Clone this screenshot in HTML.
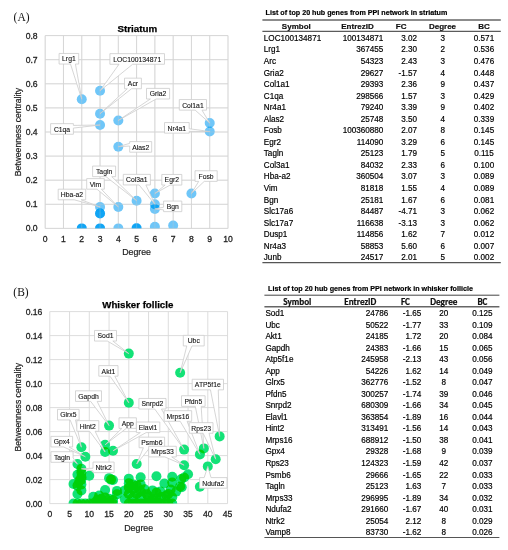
<!DOCTYPE html>
<html><head><meta charset="utf-8"><title>Hub genes</title>
<style>html,body{margin:0;padding:0;background:#fff;}svg{display:block;}</style>
</head><body>
<svg width="508" height="550" viewBox="0 0 508 550">
<rect width="508" height="550" fill="#fff"/>
<defs>
<filter id="gf" x="0" y="0" width="508" height="550" filterUnits="userSpaceOnUse" color-interpolation-filters="sRGB">
<feComponentTransfer in="SourceAlpha" result="t"><feFuncA type="table" tableValues="0.0000 0.0000 0.0000 0.0000 0.0000 0.0000 0.0000 0.0000 0.2198 0.4396 0.6593 0.8791 1.0000 1.0000 1.0000 1.0000 1.0000 1.0000 1.0000 1.0000 1.0000"/></feComponentTransfer>
<feColorMatrix in="t" type="matrix" values="0 0 0 -0.0706 0.0706 0 0 0 -0.0706 0.8863 0 0 0 -0.4314 0.4627 0 0 0 0 1" result="col"/>
<feComponentTransfer in="SourceAlpha" result="a"><feFuncA type="table" tableValues="0.0000 0.1429 0.2857 0.4286 0.5714 0.7143 0.8571 1.0000 1.0000 1.0000 1.0000 1.0000 1.0000 1.0000 1.0000 1.0000 1.0000 1.0000 1.0000 1.0000 1.0000"/></feComponentTransfer>
<feComposite in="col" in2="a" operator="in"/>
</filter>
<filter id="bf" x="0" y="0" width="508" height="550" filterUnits="userSpaceOnUse" color-interpolation-filters="sRGB">
<feComponentTransfer in="SourceAlpha" result="t"><feFuncA type="table" tableValues="0.0000 0.0000 0.0000 0.0000 0.0000 0.0000 0.0000 0.0000 0.2198 0.4396 0.6593 0.8791 1.0000 1.0000 1.0000 1.0000 1.0000 1.0000 1.0000 1.0000 1.0000"/></feComponentTransfer>
<feColorMatrix in="t" type="matrix" values="0 0 0 -0.3922 0.4314 0 0 0 -0.1373 0.7765 0 0 0 -0.0118 0.9725 0 0 0 0 1" result="col"/>
<feComponentTransfer in="SourceAlpha" result="a"><feFuncA type="table" tableValues="0.0000 0.1429 0.2857 0.4286 0.5714 0.7143 0.8571 1.0000 1.0000 1.0000 1.0000 1.0000 1.0000 1.0000 1.0000 1.0000 1.0000 1.0000 1.0000 1.0000 1.0000"/></feComponentTransfer>
<feComposite in="col" in2="a" operator="in"/>
</filter>
<clipPath id="cpA"><rect x="44.20" y="0" width="194.80" height="228.40"/></clipPath>
<clipPath id="cpB"><rect x="48.80" y="0" width="189.75" height="503.60"/></clipPath>
</defs>
<text x="13.6" y="20.8" font-family="'Liberation Serif', 'Times New Roman', serif" font-size="11.5" fill="#111">(A)</text>
<text x="13.3" y="296.2" font-family="'Liberation Serif', 'Times New Roman', serif" font-size="11.5" fill="#111">(B)</text>
<g stroke="#d9d9d9" stroke-width="0.9" shape-rendering="auto"><line x1="45.20" y1="35.60" x2="45.20" y2="228.40"/><line x1="63.48" y1="35.60" x2="63.48" y2="228.40"/><line x1="81.76" y1="35.60" x2="81.76" y2="228.40"/><line x1="100.04" y1="35.60" x2="100.04" y2="228.40"/><line x1="118.32" y1="35.60" x2="118.32" y2="228.40"/><line x1="136.60" y1="35.60" x2="136.60" y2="228.40"/><line x1="154.88" y1="35.60" x2="154.88" y2="228.40"/><line x1="173.16" y1="35.60" x2="173.16" y2="228.40"/><line x1="191.44" y1="35.60" x2="191.44" y2="228.40"/><line x1="209.72" y1="35.60" x2="209.72" y2="228.40"/><line x1="228.00" y1="35.60" x2="228.00" y2="228.40"/><line x1="45.20" y1="228.40" x2="228.00" y2="228.40"/><line x1="45.20" y1="204.30" x2="228.00" y2="204.30"/><line x1="45.20" y1="180.20" x2="228.00" y2="180.20"/><line x1="45.20" y1="156.10" x2="228.00" y2="156.10"/><line x1="45.20" y1="132.00" x2="228.00" y2="132.00"/><line x1="45.20" y1="107.90" x2="228.00" y2="107.90"/><line x1="45.20" y1="83.80" x2="228.00" y2="83.80"/><line x1="45.20" y1="59.70" x2="228.00" y2="59.70"/><line x1="45.20" y1="35.60" x2="228.00" y2="35.60"/></g><g font-family="'Liberation Sans', Arial, sans-serif" font-size="8.6" fill="#222" stroke="#222" stroke-width="0.28"><text x="37.60" y="231.40" text-anchor="end">0.0</text><text x="37.60" y="207.30" text-anchor="end">0.1</text><text x="37.60" y="183.20" text-anchor="end">0.2</text><text x="37.60" y="159.10" text-anchor="end">0.3</text><text x="37.60" y="135.00" text-anchor="end">0.4</text><text x="37.60" y="110.90" text-anchor="end">0.5</text><text x="37.60" y="86.80" text-anchor="end">0.6</text><text x="37.60" y="62.70" text-anchor="end">0.7</text><text x="37.60" y="38.60" text-anchor="end">0.8</text><text x="45.20" y="241.50" text-anchor="middle">0</text><text x="63.48" y="241.50" text-anchor="middle">1</text><text x="81.76" y="241.50" text-anchor="middle">2</text><text x="100.04" y="241.50" text-anchor="middle">3</text><text x="118.32" y="241.50" text-anchor="middle">4</text><text x="136.60" y="241.50" text-anchor="middle">5</text><text x="154.88" y="241.50" text-anchor="middle">6</text><text x="173.16" y="241.50" text-anchor="middle">7</text><text x="191.44" y="241.50" text-anchor="middle">8</text><text x="209.72" y="241.50" text-anchor="middle">9</text><text x="228.00" y="241.50" text-anchor="middle">10</text></g>
<text x="137.3" y="32.2" text-anchor="middle" font-family="'Liberation Sans', Arial, sans-serif" font-size="9.8" font-weight="bold" fill="#000" stroke="#000" stroke-width="0.25">Striatum</text>
<text x="136.6" y="255.0" text-anchor="middle" font-family="'Liberation Sans', Arial, sans-serif" font-size="8.8" fill="#222" stroke="#222" stroke-width="0.2">Degree</text>
<text transform="translate(21.0,132.1) rotate(-90)" text-anchor="middle" font-family="'Liberation Sans', Arial, sans-serif" font-size="8.6" fill="#222" stroke="#222" stroke-width="0.2">Betweenness centrality</text>
<g clip-path="url(#cpA)"><g filter="url(#bf)" fill="#000" fill-opacity="0.35"><circle cx="100.04" cy="90.79" r="5"/><circle cx="81.76" cy="99.22" r="5"/><circle cx="100.04" cy="113.68" r="5"/><circle cx="118.32" cy="120.43" r="5"/><circle cx="209.72" cy="123.08" r="5"/><circle cx="100.04" cy="125.01" r="5"/><circle cx="209.72" cy="131.52" r="5"/><circle cx="118.32" cy="146.70" r="5"/><circle cx="191.44" cy="193.46" r="5"/><circle cx="154.88" cy="193.46" r="5"/><circle cx="136.60" cy="200.69" r="5"/><circle cx="154.88" cy="204.30" r="5"/><circle cx="100.04" cy="206.95" r="5"/><circle cx="118.32" cy="206.95" r="5"/><circle cx="154.88" cy="208.88" r="5"/><circle cx="100.04" cy="213.46" r="5"/><circle cx="100.04" cy="213.46" r="5"/><circle cx="173.16" cy="225.51" r="5"/><circle cx="154.88" cy="226.71" r="5"/><circle cx="136.60" cy="227.92" r="5"/><circle cx="81.76" cy="228.40" r="5"/><circle cx="81.76" cy="228.40" r="5"/><circle cx="100.04" cy="228.40" r="5"/><circle cx="100.04" cy="228.40" r="5"/><circle cx="118.32" cy="228.40" r="5"/><circle cx="136.60" cy="228.40" r="5"/></g></g>
<g stroke="#c8c8c8" stroke-width="0.9" opacity="0.35"><line x1="45.20" y1="35.60" x2="45.20" y2="228.40"/><line x1="63.48" y1="35.60" x2="63.48" y2="228.40"/><line x1="81.76" y1="35.60" x2="81.76" y2="228.40"/><line x1="100.04" y1="35.60" x2="100.04" y2="228.40"/><line x1="118.32" y1="35.60" x2="118.32" y2="228.40"/><line x1="136.60" y1="35.60" x2="136.60" y2="228.40"/><line x1="154.88" y1="35.60" x2="154.88" y2="228.40"/><line x1="173.16" y1="35.60" x2="173.16" y2="228.40"/><line x1="191.44" y1="35.60" x2="191.44" y2="228.40"/><line x1="209.72" y1="35.60" x2="209.72" y2="228.40"/><line x1="228.00" y1="35.60" x2="228.00" y2="228.40"/><line x1="45.20" y1="228.40" x2="228.00" y2="228.40"/><line x1="45.20" y1="204.30" x2="228.00" y2="204.30"/><line x1="45.20" y1="180.20" x2="228.00" y2="180.20"/><line x1="45.20" y1="156.10" x2="228.00" y2="156.10"/><line x1="45.20" y1="132.00" x2="228.00" y2="132.00"/><line x1="45.20" y1="107.90" x2="228.00" y2="107.90"/><line x1="45.20" y1="83.80" x2="228.00" y2="83.80"/><line x1="45.20" y1="59.70" x2="228.00" y2="59.70"/><line x1="45.20" y1="35.60" x2="228.00" y2="35.60"/></g>
<g fill="#fff" stroke="#cccccc" stroke-width="0.8"><path d="M59.1,53.45L78.7,53.45L78.7,64.05L75.43,64.05L81.76,99.22L70.53,64.05L59.1,64.05Z"/><path d="M109.9,53.65L164.5,53.65L164.5,64.25L132.65,64.25L100.04,90.79L119,64.25L109.9,64.25Z"/><path d="M124.5,78.15L141.4,78.15L141.4,88.75L131.54,88.75L100.04,113.68L127.32,88.75L124.5,88.75Z"/><path d="M146.5,88.4L169.6,88.4L169.6,99L156.12,99L118.32,120.43L150.35,99L146.5,99Z"/><path d="M179.3,99.55L206.5,99.55L206.5,110.15L201.97,110.15L209.72,123.08L195.17,110.15L179.3,110.15Z"/><path d="M50.6,123.65L73.4,123.65L73.4,125.42L100.04,125.01L73.4,128.07L73.4,134.25L50.6,134.25Z"/><path d="M164.5,122.55L189.2,122.55L189.2,128.73L209.72,131.52L189.2,131.38L189.2,133.15L164.5,133.15Z"/><path d="M129.7,141.6L151.7,141.6L151.7,152.2L129.7,152.2L129.7,146.02L118.32,146.7L129.7,143.37Z"/><path d="M92.6,166.05L115.6,166.05L115.6,176.65L111.77,176.65L136.6,200.69L106.02,176.65L92.6,176.65Z"/><path d="M123.3,174.35L150.4,174.35L150.4,184.95L145.88,184.95L154.88,204.3L139.11,184.95L123.3,184.95Z"/><path d="M161.8,174.45L181.8,174.45L181.8,185.05L170.13,185.05L154.88,193.46L165.13,185.05L161.8,185.05Z"/><path d="M195,170.75L217.2,170.75L217.2,181.35L204.25,181.35L191.44,193.46L198.7,181.35L195,181.35Z"/><path d="M86.7,178.6L104.3,178.6L104.3,189.2L101.37,189.2L118.32,206.95L96.97,189.2L86.7,189.2Z"/><path d="M58.2,189.2L85.7,189.2L85.7,199.8L81.12,199.8L100.04,206.95L74.24,199.8L58.2,199.8Z"/><path d="M163.6,201.05L181.8,201.05L181.8,211.65L163.6,211.65L163.6,209.88L154.88,208.88L163.6,207.23Z"/></g><g font-family="'Liberation Sans', Arial, sans-serif" font-size="6.8" fill="#111" stroke="#111" stroke-width="0.1" text-anchor="middle"><text x="68.90" y="61.45">Lrg1</text><text x="137.20" y="61.65">LOC100134871</text><text x="132.95" y="86.15">Acr</text><text x="158.05" y="96.40">Gria2</text><text x="192.90" y="107.55">Col1a1</text><text x="62.00" y="131.65">C1qa</text><text x="176.85" y="130.55">Nr4a1</text><text x="140.70" y="149.60">Alas2</text><text x="104.10" y="174.05">Tagln</text><text x="136.85" y="182.35">Col3a1</text><text x="171.80" y="182.45">Egr2</text><text x="206.10" y="178.75">Fosb</text><text x="95.50" y="186.60">Vim</text><text x="71.95" y="197.20">Hba-a2</text><text x="172.70" y="209.05">Bgn</text></g>
<g stroke="#d9d9d9" stroke-width="0.9" shape-rendering="auto"><line x1="49.80" y1="311.60" x2="49.80" y2="503.60"/><line x1="69.55" y1="311.60" x2="69.55" y2="503.60"/><line x1="89.30" y1="311.60" x2="89.30" y2="503.60"/><line x1="109.05" y1="311.60" x2="109.05" y2="503.60"/><line x1="128.80" y1="311.60" x2="128.80" y2="503.60"/><line x1="148.55" y1="311.60" x2="148.55" y2="503.60"/><line x1="168.30" y1="311.60" x2="168.30" y2="503.60"/><line x1="188.05" y1="311.60" x2="188.05" y2="503.60"/><line x1="207.80" y1="311.60" x2="207.80" y2="503.60"/><line x1="227.55" y1="311.60" x2="227.55" y2="503.60"/><line x1="49.80" y1="503.60" x2="227.55" y2="503.60"/><line x1="49.80" y1="479.60" x2="227.55" y2="479.60"/><line x1="49.80" y1="455.60" x2="227.55" y2="455.60"/><line x1="49.80" y1="431.60" x2="227.55" y2="431.60"/><line x1="49.80" y1="407.60" x2="227.55" y2="407.60"/><line x1="49.80" y1="383.60" x2="227.55" y2="383.60"/><line x1="49.80" y1="359.60" x2="227.55" y2="359.60"/><line x1="49.80" y1="335.60" x2="227.55" y2="335.60"/><line x1="49.80" y1="311.60" x2="227.55" y2="311.60"/></g><g font-family="'Liberation Sans', Arial, sans-serif" font-size="8.6" fill="#222" stroke="#222" stroke-width="0.28"><text x="42.40" y="506.60" text-anchor="end">0.00</text><text x="42.40" y="482.60" text-anchor="end">0.02</text><text x="42.40" y="458.60" text-anchor="end">0.04</text><text x="42.40" y="434.60" text-anchor="end">0.06</text><text x="42.40" y="410.60" text-anchor="end">0.08</text><text x="42.40" y="386.60" text-anchor="end">0.10</text><text x="42.40" y="362.60" text-anchor="end">0.12</text><text x="42.40" y="338.60" text-anchor="end">0.14</text><text x="42.40" y="314.60" text-anchor="end">0.16</text><text x="49.80" y="516.70" text-anchor="middle">0</text><text x="69.55" y="516.70" text-anchor="middle">5</text><text x="89.30" y="516.70" text-anchor="middle">10</text><text x="109.05" y="516.70" text-anchor="middle">15</text><text x="128.80" y="516.70" text-anchor="middle">20</text><text x="148.55" y="516.70" text-anchor="middle">25</text><text x="168.30" y="516.70" text-anchor="middle">30</text><text x="188.05" y="516.70" text-anchor="middle">35</text><text x="207.80" y="516.70" text-anchor="middle">40</text><text x="227.55" y="516.70" text-anchor="middle">45</text></g>
<text x="137.8" y="307.9" text-anchor="middle" font-family="'Liberation Sans', Arial, sans-serif" font-size="9.7" font-weight="bold" fill="#000" stroke="#000" stroke-width="0.25">Whisker follicle</text>
<text x="138.7" y="530.6" text-anchor="middle" font-family="'Liberation Sans', Arial, sans-serif" font-size="8.8" fill="#222" stroke="#222" stroke-width="0.2">Degree</text>
<text transform="translate(21.0,407.2) rotate(-90)" text-anchor="middle" font-family="'Liberation Sans', Arial, sans-serif" font-size="8.6" fill="#222" stroke="#222" stroke-width="0.2">Betweenness centrality</text>
<g clip-path="url(#cpB)"><g filter="url(#gf)" fill="#000" fill-opacity="0.35"><circle cx="128.80" cy="353.60" r="5"/><circle cx="180.15" cy="372.80" r="5"/><circle cx="128.80" cy="402.80" r="5"/><circle cx="109.05" cy="425.60" r="5"/><circle cx="219.65" cy="436.40" r="5"/><circle cx="105.10" cy="444.80" r="5"/><circle cx="81.40" cy="447.20" r="5"/><circle cx="203.85" cy="448.40" r="5"/><circle cx="184.10" cy="449.60" r="5"/><circle cx="113.00" cy="450.80" r="5"/><circle cx="105.10" cy="452.00" r="5"/><circle cx="199.90" cy="454.40" r="5"/><circle cx="85.35" cy="456.80" r="5"/><circle cx="215.70" cy="459.20" r="5"/><circle cx="136.70" cy="464.00" r="5"/><circle cx="77.45" cy="464.00" r="5"/><circle cx="184.10" cy="465.20" r="5"/><circle cx="207.80" cy="466.40" r="5"/><circle cx="81.40" cy="468.80" r="5"/><circle cx="81.40" cy="472.40" r="5"/><circle cx="73.50" cy="503.60" r="5"/><circle cx="77.45" cy="503.60" r="5"/><circle cx="81.40" cy="503.60" r="5"/><circle cx="85.35" cy="503.60" r="5"/><circle cx="89.30" cy="503.60" r="5"/><circle cx="93.25" cy="503.60" r="5"/><circle cx="97.20" cy="503.60" r="5"/><circle cx="101.15" cy="503.60" r="5"/><circle cx="105.10" cy="503.60" r="5"/><circle cx="109.05" cy="503.60" r="5"/><circle cx="113.00" cy="503.60" r="5"/><circle cx="128.80" cy="503.60" r="5"/><circle cx="132.75" cy="503.60" r="5"/><circle cx="136.70" cy="503.60" r="5"/><circle cx="140.65" cy="503.60" r="5"/><circle cx="144.60" cy="503.60" r="5"/><circle cx="148.55" cy="503.60" r="5"/><circle cx="152.50" cy="503.60" r="5"/><circle cx="156.45" cy="503.60" r="5"/><circle cx="160.40" cy="503.60" r="5"/><circle cx="164.35" cy="503.60" r="5"/><circle cx="168.30" cy="503.60" r="5"/><circle cx="172.25" cy="503.60" r="5"/><circle cx="77.45" cy="474.80" r="5"/><circle cx="89.30" cy="475.76" r="5"/><circle cx="81.40" cy="479.60" r="5"/><circle cx="73.50" cy="484.04" r="5"/><circle cx="77.45" cy="485.60" r="5"/><circle cx="81.40" cy="490.40" r="5"/><circle cx="77.45" cy="494.00" r="5"/><circle cx="93.25" cy="496.76" r="5"/><circle cx="109.05" cy="478.16" r="5"/><circle cx="113.00" cy="480.08" r="5"/><circle cx="128.80" cy="478.64" r="5"/><circle cx="140.65" cy="477.20" r="5"/><circle cx="105.10" cy="490.04" r="5"/><circle cx="116.95" cy="490.88" r="5"/><circle cx="128.80" cy="487.52" r="5"/><circle cx="132.75" cy="484.40" r="5"/><circle cx="140.65" cy="484.40" r="5"/><circle cx="99.17" cy="495.44" r="5"/><circle cx="124.85" cy="499.28" r="5"/><circle cx="116.95" cy="494.36" r="5"/><circle cx="156.45" cy="476.24" r="5"/><circle cx="172.25" cy="476.72" r="5"/><circle cx="188.05" cy="474.20" r="5"/><circle cx="184.10" cy="477.56" r="5"/><circle cx="164.35" cy="483.56" r="5"/><circle cx="172.25" cy="482.60" r="5"/><circle cx="180.15" cy="486.44" r="5"/><circle cx="152.50" cy="490.40" r="5"/><circle cx="156.45" cy="492.44" r="5"/><circle cx="170.67" cy="489.44" r="5"/><circle cx="172.25" cy="497.24" r="5"/><circle cx="166.32" cy="495.44" r="5"/><circle cx="140.65" cy="491.60" r="5"/><circle cx="146.97" cy="494.36" r="5"/><circle cx="161.59" cy="497.24" r="5"/><circle cx="199.90" cy="486.80" r="5"/><circle cx="181.33" cy="479.00" r="5"/><circle cx="181.73" cy="487.28" r="5"/><circle cx="111.03" cy="479.60" r="5"/><circle cx="101.15" cy="498.80" r="5"/><circle cx="105.10" cy="497.60" r="5"/><circle cx="109.05" cy="498.80" r="5"/><circle cx="113.00" cy="500.00" r="5"/><circle cx="97.20" cy="500.00" r="5"/><circle cx="128.80" cy="483.20" r="5"/><circle cx="132.75" cy="489.20" r="5"/><circle cx="136.70" cy="485.60" r="5"/><circle cx="136.70" cy="494.00" r="5"/><circle cx="132.75" cy="497.60" r="5"/><circle cx="140.65" cy="497.60" r="5"/><circle cx="144.60" cy="489.20" r="5"/><circle cx="128.80" cy="494.00" r="5"/><circle cx="124.85" cy="490.40" r="5"/><circle cx="79.42" cy="480.80" r="5"/><circle cx="81.40" cy="477.20" r="5"/><circle cx="81.40" cy="484.40" r="5"/><circle cx="148.55" cy="497.60" r="5"/><circle cx="152.50" cy="500.00" r="5"/><circle cx="156.45" cy="498.80" r="5"/><circle cx="160.40" cy="491.60" r="5"/><circle cx="168.30" cy="494.00" r="5"/><circle cx="176.20" cy="491.60" r="5"/></g></g>
<g fill="#fff" stroke="#cccccc" stroke-width="0.8"><path d="M94.5,330.45L116.5,330.45L116.5,341.05L112.83,341.05L128.8,353.6L107.33,341.05L94.5,341.05Z"/><path d="M183.3,335.35L204.2,335.35L204.2,345.95L192.01,345.95L180.15,372.8L186.78,345.95L183.3,345.95Z"/><path d="M98.8,365.6L118,365.6L118,376.2L114.8,376.2L128.8,402.8L110,376.2L98.8,376.2Z"/><path d="M192.2,379.25L223.5,379.25L223.5,389.85L218.28,389.85L219.65,436.4L210.46,389.85L192.2,389.85Z"/><path d="M75.5,390.8L101.5,390.8L101.5,401.4L97.17,401.4L109.05,425.6L90.67,401.4L75.5,401.4Z"/><path d="M138.9,398.45L166,398.45L166,409.05L161.48,409.05L184.1,449.6L154.71,409.05L138.9,409.05Z"/><path d="M181.5,395.75L205.1,395.75L205.1,406.35L201.17,406.35L203.85,448.4L195.27,406.35L181.5,406.35Z"/><path d="M57.5,409.35L79.1,409.35L79.1,419.95L75.5,419.95L81.4,447.2L70.1,419.95L57.5,419.95Z"/><path d="M164.1,410.7L191.7,410.7L191.7,421.3L187.1,421.3L199.9,454.4L180.2,421.3L164.1,421.3Z"/><path d="M119,417.8L136.4,417.8L136.4,428.4L126.25,428.4L105.1,444.8L121.9,428.4L119,428.4Z"/><path d="M76.8,420.65L98.8,420.65L98.8,431.25L95.13,431.25L105.1,452L89.63,431.25L76.8,431.25Z"/><path d="M136.4,422L159.8,422L159.8,432.6L146.15,432.6L113,450.8L140.3,432.6L136.4,432.6Z"/><path d="M189.3,422.65L213,422.65L213,433.25L209.05,433.25L215.7,459.2L203.12,433.25L189.3,433.25Z"/><path d="M50.9,436.35L72.6,436.35L72.6,446.95L68.98,446.95L85.35,456.8L63.56,446.95L50.9,446.95Z"/><path d="M139.1,437.15L164.6,437.15L164.6,447.75L149.72,447.75L136.7,464L143.35,447.75L139.1,447.75Z"/><path d="M148.7,446.3L176.3,446.3L176.3,456.9L171.7,456.9L184.1,465.2L164.8,456.9L148.7,456.9Z"/><path d="M50.9,451.7L73.1,451.7L73.1,457.88L77.45,464L73.1,460.53L73.1,462.3L50.9,462.3Z"/><path d="M93,462.05L114.1,462.05L114.1,472.65L93,472.65L93,470.88L81.4,468.8L93,468.23Z"/><path d="M199.6,477.6L204.17,477.6L207.8,466.4L211.02,477.6L227,477.6L227,488.2L199.6,488.2Z"/></g><g font-family="'Liberation Sans', Arial, sans-serif" font-size="6.8" fill="#111" stroke="#111" stroke-width="0.1" text-anchor="middle"><text x="105.50" y="338.45">Sod1</text><text x="193.75" y="343.35">Ubc</text><text x="108.40" y="373.60">Akt1</text><text x="207.85" y="387.25">ATP5f1e</text><text x="88.50" y="398.80">Gapdh</text><text x="152.45" y="406.45">Snrpd2</text><text x="193.30" y="403.75">Pfdn5</text><text x="68.30" y="417.35">Glrx5</text><text x="177.90" y="418.70">Mrps16</text><text x="127.70" y="425.80">App</text><text x="87.80" y="428.65">Hint2</text><text x="148.10" y="430.00">Elavl1</text><text x="201.15" y="430.65">Rps23</text><text x="61.75" y="444.35">Gpx4</text><text x="151.85" y="445.15">Psmb6</text><text x="162.50" y="454.30">Mrps33</text><text x="62.00" y="459.70">Tagln</text><text x="103.55" y="470.05">Ntrk2</text><text x="213.30" y="485.60">Ndufa2</text></g>
<g font-family="'Liberation Sans', Arial, sans-serif" font-size="8.15" fill="#000" stroke="#000" stroke-width="0.18"><text x="265.6" y="14.9" font-family="'Liberation Sans', Arial, sans-serif" font-size="7.17" font-weight="bold" fill="#000">List of top 20 hub genes from PPI network in striatum</text><line x1="262.4" y1="20.1" x2="500.8" y2="20.1" stroke="#666" stroke-width="1.5"/><line x1="262.4" y1="31.3" x2="500.8" y2="31.3" stroke="#333" stroke-width="1.0"/><line x1="262.4" y1="262.6" x2="500.8" y2="262.6" stroke="#555" stroke-width="1.2"/><text x="296.3" y="28.8" text-anchor="middle" font-family="'Liberation Sans', Arial, sans-serif" font-size="8" font-weight="bold" fill="#111">Symbol</text><text x="357.5" y="28.8" text-anchor="middle" font-family="'Liberation Sans', Arial, sans-serif" font-size="8" font-weight="bold" fill="#111">EntrezID</text><text x="401.2" y="28.8" text-anchor="middle" font-family="'Liberation Sans', Arial, sans-serif" font-size="8" font-weight="bold" fill="#111">FC</text><text x="442.5" y="28.8" text-anchor="middle" font-family="'Liberation Sans', Arial, sans-serif" font-size="8" font-weight="bold" fill="#111">Degree</text><text x="484.0" y="28.8" text-anchor="middle" font-family="'Liberation Sans', Arial, sans-serif" font-size="8" font-weight="bold" fill="#111">BC</text><text x="263.8" y="40.90" text-anchor="start">LOC100134871</text><text x="383.3" y="40.90" text-anchor="end">100134871</text><text x="417.0" y="40.90" text-anchor="end">3.02</text><text x="442.7" y="40.90" text-anchor="middle">3</text><text x="484.0" y="40.90" text-anchor="middle">0.571</text><text x="263.8" y="52.45" text-anchor="start">Lrg1</text><text x="383.3" y="52.45" text-anchor="end">367455</text><text x="417.0" y="52.45" text-anchor="end">2.30</text><text x="442.7" y="52.45" text-anchor="middle">2</text><text x="484.0" y="52.45" text-anchor="middle">0.536</text><text x="263.8" y="63.99" text-anchor="start">Arc</text><text x="383.3" y="63.99" text-anchor="end">54323</text><text x="417.0" y="63.99" text-anchor="end">2.43</text><text x="442.7" y="63.99" text-anchor="middle">3</text><text x="484.0" y="63.99" text-anchor="middle">0.476</text><text x="263.8" y="75.54" text-anchor="start">Gria2</text><text x="383.3" y="75.54" text-anchor="end">29627</text><text x="417.0" y="75.54" text-anchor="end">-1.57</text><text x="442.7" y="75.54" text-anchor="middle">4</text><text x="484.0" y="75.54" text-anchor="middle">0.448</text><text x="263.8" y="87.09" text-anchor="start">Col1a1</text><text x="383.3" y="87.09" text-anchor="end">29393</text><text x="417.0" y="87.09" text-anchor="end">2.36</text><text x="442.7" y="87.09" text-anchor="middle">9</text><text x="484.0" y="87.09" text-anchor="middle">0.437</text><text x="263.8" y="98.63" text-anchor="start">C1qa</text><text x="383.3" y="98.63" text-anchor="end">298566</text><text x="417.0" y="98.63" text-anchor="end">1.57</text><text x="442.7" y="98.63" text-anchor="middle">3</text><text x="484.0" y="98.63" text-anchor="middle">0.429</text><text x="263.8" y="110.18" text-anchor="start">Nr4a1</text><text x="383.3" y="110.18" text-anchor="end">79240</text><text x="417.0" y="110.18" text-anchor="end">3.39</text><text x="442.7" y="110.18" text-anchor="middle">9</text><text x="484.0" y="110.18" text-anchor="middle">0.402</text><text x="263.8" y="121.73" text-anchor="start">Alas2</text><text x="383.3" y="121.73" text-anchor="end">25748</text><text x="417.0" y="121.73" text-anchor="end">3.50</text><text x="442.7" y="121.73" text-anchor="middle">4</text><text x="484.0" y="121.73" text-anchor="middle">0.339</text><text x="263.8" y="133.28" text-anchor="start">Fosb</text><text x="383.3" y="133.28" text-anchor="end">100360880</text><text x="417.0" y="133.28" text-anchor="end">2.07</text><text x="442.7" y="133.28" text-anchor="middle">8</text><text x="484.0" y="133.28" text-anchor="middle">0.145</text><text x="263.8" y="144.82" text-anchor="start">Egr2</text><text x="383.3" y="144.82" text-anchor="end">114090</text><text x="417.0" y="144.82" text-anchor="end">3.29</text><text x="442.7" y="144.82" text-anchor="middle">6</text><text x="484.0" y="144.82" text-anchor="middle">0.145</text><text x="263.8" y="156.37" text-anchor="start">Tagln</text><text x="383.3" y="156.37" text-anchor="end">25123</text><text x="417.0" y="156.37" text-anchor="end">1.79</text><text x="442.7" y="156.37" text-anchor="middle">5</text><text x="484.0" y="156.37" text-anchor="middle">0.115</text><text x="263.8" y="167.92" text-anchor="start">Col3a1</text><text x="383.3" y="167.92" text-anchor="end">84032</text><text x="417.0" y="167.92" text-anchor="end">2.33</text><text x="442.7" y="167.92" text-anchor="middle">6</text><text x="484.0" y="167.92" text-anchor="middle">0.100</text><text x="263.8" y="179.46" text-anchor="start">Hba-a2</text><text x="383.3" y="179.46" text-anchor="end">360504</text><text x="417.0" y="179.46" text-anchor="end">3.07</text><text x="442.7" y="179.46" text-anchor="middle">3</text><text x="484.0" y="179.46" text-anchor="middle">0.089</text><text x="263.8" y="191.01" text-anchor="start">Vim</text><text x="383.3" y="191.01" text-anchor="end">81818</text><text x="417.0" y="191.01" text-anchor="end">1.55</text><text x="442.7" y="191.01" text-anchor="middle">4</text><text x="484.0" y="191.01" text-anchor="middle">0.089</text><text x="263.8" y="202.56" text-anchor="start">Bgn</text><text x="383.3" y="202.56" text-anchor="end">25181</text><text x="417.0" y="202.56" text-anchor="end">1.67</text><text x="442.7" y="202.56" text-anchor="middle">6</text><text x="484.0" y="202.56" text-anchor="middle">0.081</text><text x="263.8" y="214.11" text-anchor="start">Slc17a6</text><text x="383.3" y="214.11" text-anchor="end">84487</text><text x="417.0" y="214.11" text-anchor="end">-4.71</text><text x="442.7" y="214.11" text-anchor="middle">3</text><text x="484.0" y="214.11" text-anchor="middle">0.062</text><text x="263.8" y="225.65" text-anchor="start">Slc17a7</text><text x="383.3" y="225.65" text-anchor="end">116638</text><text x="417.0" y="225.65" text-anchor="end">-3.13</text><text x="442.7" y="225.65" text-anchor="middle">3</text><text x="484.0" y="225.65" text-anchor="middle">0.062</text><text x="263.8" y="237.20" text-anchor="start">Dusp1</text><text x="383.3" y="237.20" text-anchor="end">114856</text><text x="417.0" y="237.20" text-anchor="end">1.62</text><text x="442.7" y="237.20" text-anchor="middle">7</text><text x="484.0" y="237.20" text-anchor="middle">0.012</text><text x="263.8" y="248.75" text-anchor="start">Nr4a3</text><text x="383.3" y="248.75" text-anchor="end">58853</text><text x="417.0" y="248.75" text-anchor="end">5.60</text><text x="442.7" y="248.75" text-anchor="middle">6</text><text x="484.0" y="248.75" text-anchor="middle">0.007</text><text x="263.8" y="260.29" text-anchor="start">Junb</text><text x="383.3" y="260.29" text-anchor="end">24517</text><text x="417.0" y="260.29" text-anchor="end">2.01</text><text x="442.7" y="260.29" text-anchor="middle">5</text><text x="484.0" y="260.29" text-anchor="middle">0.002</text></g>
<g font-family="'Liberation Sans', Arial, sans-serif" font-size="8.15" fill="#000" stroke="#000" stroke-width="0.18"><text x="268.1" y="290.8" font-family="'Liberation Sans', Arial, sans-serif" font-size="7.17" font-weight="bold" fill="#000">List of top 20 hub genes from PPI network in whisker follicle</text><line x1="264.4" y1="295.2" x2="499.4" y2="295.2" stroke="#444" stroke-width="1.0"/><line x1="264.4" y1="306.8" x2="499.4" y2="306.8" stroke="#666" stroke-width="1.4"/><line x1="264.4" y1="537.5" x2="499.4" y2="537.5" stroke="#555" stroke-width="1.0"/><text x="297.3" y="304.8" text-anchor="middle" font-family="Carlito, 'Liberation Sans', Arial, sans-serif" font-size="9.2" font-weight="bold" fill="#111" textLength="28.20" lengthAdjust="spacingAndGlyphs">Symbol</text><text x="360.3" y="304.8" text-anchor="middle" font-family="Carlito, 'Liberation Sans', Arial, sans-serif" font-size="9.2" font-weight="bold" fill="#111" textLength="32.15" lengthAdjust="spacingAndGlyphs">EntrezID</text><text x="405.4" y="304.8" text-anchor="middle" font-family="Carlito, 'Liberation Sans', Arial, sans-serif" font-size="9.2" font-weight="bold" fill="#111" textLength="9.02" lengthAdjust="spacingAndGlyphs">FC</text><text x="443.8" y="304.8" text-anchor="middle" font-family="Carlito, 'Liberation Sans', Arial, sans-serif" font-size="9.2" font-weight="bold" fill="#111" textLength="27.22" lengthAdjust="spacingAndGlyphs">Degree</text><text x="482.4" y="304.8" text-anchor="middle" font-family="Carlito, 'Liberation Sans', Arial, sans-serif" font-size="9.2" font-weight="bold" fill="#111" textLength="10.03" lengthAdjust="spacingAndGlyphs">BC</text><text x="265.4" y="316.10" text-anchor="start">Sod1</text><text x="388.3" y="316.10" text-anchor="end">24786</text><text x="421.4" y="316.10" text-anchor="end">-1.65</text><text x="443.8" y="316.10" text-anchor="middle">20</text><text x="482.4" y="316.10" text-anchor="middle">0.125</text><text x="265.4" y="327.63" text-anchor="start">Ubc</text><text x="388.3" y="327.63" text-anchor="end">50522</text><text x="421.4" y="327.63" text-anchor="end">-1.77</text><text x="443.8" y="327.63" text-anchor="middle">33</text><text x="482.4" y="327.63" text-anchor="middle">0.109</text><text x="265.4" y="339.16" text-anchor="start">Akt1</text><text x="388.3" y="339.16" text-anchor="end">24185</text><text x="421.4" y="339.16" text-anchor="end">1.72</text><text x="443.8" y="339.16" text-anchor="middle">20</text><text x="482.4" y="339.16" text-anchor="middle">0.084</text><text x="265.4" y="350.69" text-anchor="start">Gapdh</text><text x="388.3" y="350.69" text-anchor="end">24383</text><text x="421.4" y="350.69" text-anchor="end">-1.66</text><text x="443.8" y="350.69" text-anchor="middle">15</text><text x="482.4" y="350.69" text-anchor="middle">0.065</text><text x="265.4" y="362.22" text-anchor="start">Atp5f1e</text><text x="388.3" y="362.22" text-anchor="end">245958</text><text x="421.4" y="362.22" text-anchor="end">-2.13</text><text x="443.8" y="362.22" text-anchor="middle">43</text><text x="482.4" y="362.22" text-anchor="middle">0.056</text><text x="265.4" y="373.75" text-anchor="start">App</text><text x="388.3" y="373.75" text-anchor="end">54226</text><text x="421.4" y="373.75" text-anchor="end">1.62</text><text x="443.8" y="373.75" text-anchor="middle">14</text><text x="482.4" y="373.75" text-anchor="middle">0.049</text><text x="265.4" y="385.28" text-anchor="start">Glrx5</text><text x="388.3" y="385.28" text-anchor="end">362776</text><text x="421.4" y="385.28" text-anchor="end">-1.52</text><text x="443.8" y="385.28" text-anchor="middle">8</text><text x="482.4" y="385.28" text-anchor="middle">0.047</text><text x="265.4" y="396.81" text-anchor="start">Pfdn5</text><text x="388.3" y="396.81" text-anchor="end">300257</text><text x="421.4" y="396.81" text-anchor="end">-1.74</text><text x="443.8" y="396.81" text-anchor="middle">39</text><text x="482.4" y="396.81" text-anchor="middle">0.046</text><text x="265.4" y="408.34" text-anchor="start">Snrpd2</text><text x="388.3" y="408.34" text-anchor="end">680309</text><text x="421.4" y="408.34" text-anchor="end">-1.66</text><text x="443.8" y="408.34" text-anchor="middle">34</text><text x="482.4" y="408.34" text-anchor="middle">0.045</text><text x="265.4" y="419.87" text-anchor="start">Elavl1</text><text x="388.3" y="419.87" text-anchor="end">363854</text><text x="421.4" y="419.87" text-anchor="end">-1.89</text><text x="443.8" y="419.87" text-anchor="middle">16</text><text x="482.4" y="419.87" text-anchor="middle">0.044</text><text x="265.4" y="431.40" text-anchor="start">Hint2</text><text x="388.3" y="431.40" text-anchor="end">313491</text><text x="421.4" y="431.40" text-anchor="end">-1.56</text><text x="443.8" y="431.40" text-anchor="middle">14</text><text x="482.4" y="431.40" text-anchor="middle">0.043</text><text x="265.4" y="442.93" text-anchor="start">Mrps16</text><text x="388.3" y="442.93" text-anchor="end">688912</text><text x="421.4" y="442.93" text-anchor="end">-1.50</text><text x="443.8" y="442.93" text-anchor="middle">38</text><text x="482.4" y="442.93" text-anchor="middle">0.041</text><text x="265.4" y="454.46" text-anchor="start">Gpx4</text><text x="388.3" y="454.46" text-anchor="end">29328</text><text x="421.4" y="454.46" text-anchor="end">-1.68</text><text x="443.8" y="454.46" text-anchor="middle">9</text><text x="482.4" y="454.46" text-anchor="middle">0.039</text><text x="265.4" y="465.99" text-anchor="start">Rps23</text><text x="388.3" y="465.99" text-anchor="end">124323</text><text x="421.4" y="465.99" text-anchor="end">-1.59</text><text x="443.8" y="465.99" text-anchor="middle">42</text><text x="482.4" y="465.99" text-anchor="middle">0.037</text><text x="265.4" y="477.52" text-anchor="start">Psmb6</text><text x="388.3" y="477.52" text-anchor="end">29666</text><text x="421.4" y="477.52" text-anchor="end">-1.65</text><text x="443.8" y="477.52" text-anchor="middle">22</text><text x="482.4" y="477.52" text-anchor="middle">0.033</text><text x="265.4" y="489.05" text-anchor="start">Tagln</text><text x="388.3" y="489.05" text-anchor="end">25123</text><text x="421.4" y="489.05" text-anchor="end">1.63</text><text x="443.8" y="489.05" text-anchor="middle">7</text><text x="482.4" y="489.05" text-anchor="middle">0.033</text><text x="265.4" y="500.58" text-anchor="start">Mrps33</text><text x="388.3" y="500.58" text-anchor="end">296995</text><text x="421.4" y="500.58" text-anchor="end">-1.89</text><text x="443.8" y="500.58" text-anchor="middle">34</text><text x="482.4" y="500.58" text-anchor="middle">0.032</text><text x="265.4" y="512.11" text-anchor="start">Ndufa2</text><text x="388.3" y="512.11" text-anchor="end">291660</text><text x="421.4" y="512.11" text-anchor="end">-1.67</text><text x="443.8" y="512.11" text-anchor="middle">40</text><text x="482.4" y="512.11" text-anchor="middle">0.031</text><text x="265.4" y="523.64" text-anchor="start">Ntrk2</text><text x="388.3" y="523.64" text-anchor="end">25054</text><text x="421.4" y="523.64" text-anchor="end">2.12</text><text x="443.8" y="523.64" text-anchor="middle">8</text><text x="482.4" y="523.64" text-anchor="middle">0.029</text><text x="265.4" y="535.17" text-anchor="start">Vamp8</text><text x="388.3" y="535.17" text-anchor="end">83730</text><text x="421.4" y="535.17" text-anchor="end">-1.62</text><text x="443.8" y="535.17" text-anchor="middle">8</text><text x="482.4" y="535.17" text-anchor="middle">0.026</text></g>
</svg>
</body></html>
